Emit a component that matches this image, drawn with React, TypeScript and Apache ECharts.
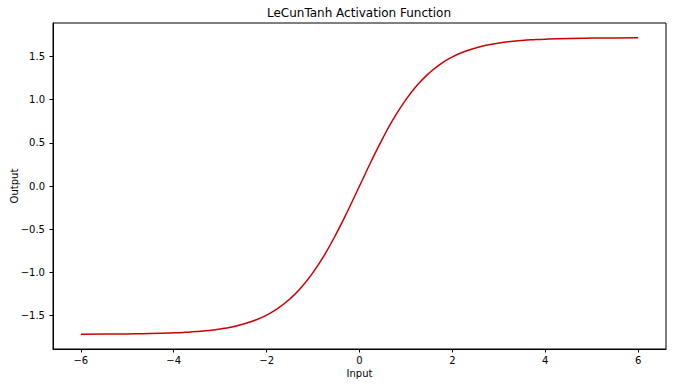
import React, { useEffect, useRef } from "react";
import * as echarts from "echarts";

const inputs = [
  -6, -5.5, -5, -4.5, -4, -3.75, -3.5, -3.25, -3, -2.75, -2.5, -2.25, -2, -1.75, -1.5, -1.25, -1, -0.75, -0.5, -0.25,
  0, 0.25, 0.5, 0.75, 1, 1.25, 1.5, 1.75, 2, 2.25, 2.5, 2.75, 3, 3.25, 3.5, 3.75, 4, 4.5, 5, 5.5, 6,
];
const outputs = [
  -1.7148, -1.7137, -1.7116, -1.7075, -1.6994, -1.6929, -1.684, -1.6713, -1.6542, -1.6308, -1.5977, -1.5531, -1.4932,
  -1.4139, -1.3068, -1.1706, -1.0, -0.793, -0.5517, -0.2833, 0, 0.2833, 0.5517, 0.793, 1.0, 1.1706, 1.3068, 1.4139,
  1.4932, 1.5531, 1.5977, 1.6308, 1.6542, 1.6713, 1.684, 1.6929, 1.6994, 1.7075, 1.7116, 1.7137, 1.7148,
];
const xTicks = [-6, -4, -2, 0, 2, 4, 6];
const yTicks = [-1.5, -1.0, -0.5, 0.0, 0.5, 1.0, 1.5];

const fmtX = (v: number) => (v < 0 ? "\u2212" + Math.abs(v) : String(v));
const fmtY = (v: number) => (v < 0 ? "\u2212" + Math.abs(v).toFixed(1) : v.toFixed(1));

const FONT = "DejaVu Sans";

export default function App() {
  const ref = useRef<HTMLDivElement>(null);
  useEffect(() => {
    document.body.style.margin = "0";
    const chart = echarts.init(ref.current!, null, { renderer: "svg" });
    chart.setOption({
      animation: false,
      backgroundColor: "#ffffff",
      textStyle: { fontFamily: FONT },
      title: {
        text: "LeCunTanh Activation Function",
        left: 354,
        top: 2,
        textAlign: "center",
        textStyle: { fontFamily: FONT, fontSize: 12, fontWeight: "normal", color: "#000" },
      },
      grid: {
        left: 53,
        top: 23,
        right: 7,
        bottom: 38,
        show: true,
        borderColor: "#000",
        borderWidth: 1,
        containLabel: false,
        outerBoundsMode: "none",
      },
      xAxis: {
        type: "value",
        min: -6.6,
        max: 6.6,
        name: "Input",
        nameLocation: "middle",
        nameGap: 19,
        nameMoveOverlap: false,
        nameTextStyle: { fontFamily: FONT, fontSize: 10, color: "#000" },
        axisLine: { show: true, onZero: false, lineStyle: { color: "#000", width: 1 } },
        axisTick: { show: true, length: 3.5, lineStyle: { color: "#000" }, customValues: xTicks },
        axisLabel: {
          fontFamily: FONT,
          fontSize: 10,
          color: "#000",
          margin: 6,
          customValues: xTicks,
          formatter: (v: number) => fmtX(v),
        },
        splitLine: { show: false },
      },
      yAxis: {
        type: "value",
        min: -1.886,
        max: 1.886,
        name: "Output",
        nameLocation: "middle",
        nameRotate: 90,
        nameGap: 34,
        nameMoveOverlap: false,
        nameTextStyle: { fontFamily: FONT, fontSize: 10, color: "#000" },
        axisLine: { show: true, onZero: false, lineStyle: { color: "#000", width: 1 } },
        axisTick: { show: true, length: 3.5, lineStyle: { color: "#000" }, customValues: yTicks },
        axisLabel: {
          fontFamily: FONT,
          fontSize: 10,
          color: "#000",
          margin: 8,
          customValues: yTicks,
          formatter: (v: number) => fmtY(v),
        },
        splitLine: { show: false },
      },
      series: [
        {
          type: "line",
          data: inputs.map((x, i) => [x, outputs[i]]),
          smooth: true,
          showSymbol: false,
          symbol: "none",
          lineStyle: { color: "#cc0000", width: 1.5 },
          itemStyle: { color: "#cc0000" },
        },
      ],
    });
    return () => chart.dispose();
  }, []);
  return <div ref={ref} style={{ width: 673, height: 387 }} />;
}
